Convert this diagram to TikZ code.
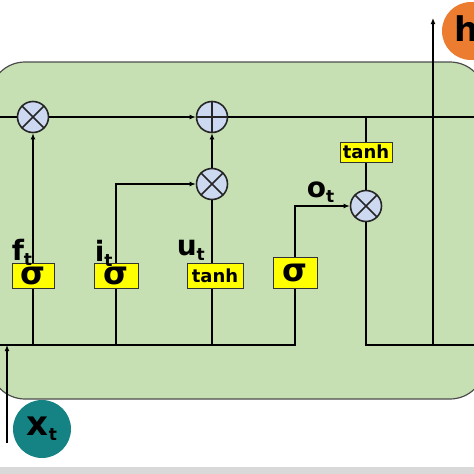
\documentclass[tikz,border=0pt]{standalone}
\usepackage{fontspec}
\setmainfont{DejaVu Sans}
\usetikzlibrary{positioning,arrows.meta}

\definecolor{cellgreen}{HTML}{C6E0B4}
\definecolor{opblue}{HTML}{CDD9F0}
\definecolor{gateyellow}{HTML}{FFFF00}
\definecolor{inteal}{HTML}{158383}
\definecolor{outorange}{HTML}{EC7C30}

\newcommand{\lsub}[2]{#1\raisebox{-5pt}{\fontsize{17}{17}\selectfont #2}}

\tikzset{
  opnode/.style={circle,draw=black!85,line width=1.6pt,fill=opblue,minimum size=31pt,inner sep=0pt},
  mult/.style={opnode,path picture={\draw[line width=1.6pt]
    (path picture bounding box.north west) -- (path picture bounding box.south east)
    (path picture bounding box.south west) -- (path picture bounding box.north east);}},
  addop/.style={opnode,path picture={\draw[line width=1.6pt]
    (path picture bounding box.north) -- (path picture bounding box.south)
    (path picture bounding box.west) -- (path picture bounding box.east);}},
  gatebox/.style={draw=black!80,line width=1pt,fill=gateyellow,inner sep=0pt,
    minimum height=25pt,font=\bfseries\fontsize{32}{32}\selectfont},
  tanhbox/.style={gatebox,font=\bfseries\fontsize{18}{18}\selectfont},
  lbl/.style={inner sep=0pt,anchor=base west,font=\bfseries\fontsize{28}{28}\selectfont},
  endnode/.style={circle,minimum size=58pt,inner sep=0pt,font=\bfseries\fontsize{34}{34}\selectfont}
}

\begin{document}
\begin{tikzpicture}[x=1pt,y=-1pt,line width=1.6pt,>={Latex[length=6pt,width=5pt]}]
\useasboundingbox (0,0) rectangle (474,474);
\clip (0,0) rectangle (474,474);

%-------------------Cell Body--------------------%
\draw[draw=black!70,line width=1.2pt,fill=cellgreen,rounded corners=35pt] (-10,62) rectangle (485,399);
\fill[black!15] (0,467) rectangle (474,474);

%-------------------Operators--------------------%
\node[mult] (mulf) at (33,117) {};
\node[addop] (plus) at (212,117) {};
\node[mult] (muli) at (212,184) {};
\node[mult] (mulo) at (366,206) {};

%-------------------Gates--------------------%
\node[gatebox,minimum width=42pt] (sigf) at (33,275.5) {σ};
\node[gatebox,minimum width=44pt] (sigi) at (116,275.5) {σ};
\node[tanhbox,minimum width=56pt] (tanhu) at (215,275.5) {tanh};
\node[gatebox,minimum width=44pt,minimum height=31pt] (sigo) at (295,272.5) {σ};
\node[tanhbox,minimum width=52pt,minimum height=20pt] (tanhc) at (366,152) {tanh};

%-------------------In and Out--------------------%
\node[endnode,fill=inteal] (xin) at (42,429) {\lsub{x}{t}};
\node[endnode,fill=outorange] (hout) at (471,31) {\lsub{h}{t}};

\coordinate (celll) at (0,117);
\coordinate (cellr) at (474,117);
\coordinate (botl) at (0,345);
\coordinate (outr) at (474,345);
\coordinate (hjoin) at (433,345);
\coordinate (htip) at (433,18);
\coordinate (xtail) at (7,443);

%-------------------Cell State--------------------%
\draw (celll) -- (mulf);
\draw[->] (mulf) -- (plus);
\draw (plus) -- (cellr);
\draw[->] (muli) -- (plus);

%-------------------Gate Lines--------------------%
\draw (botl) -| (sigo.south);
\draw[->] (xtail) -- (xtail |- botl);
\draw[->] (sigf) -- (mulf);
\draw (sigf) -- (sigf |- botl);
\draw[->] (sigi) |- (muli);
\draw (sigi) -- (sigi |- botl);
\draw (tanhu.north -| muli) -- (muli);
\draw (tanhu.south -| muli) -- (muli |- botl);
\draw[->] (sigo) |- (mulo);

%-------------------Output--------------------%
\draw (tanhc) -- (tanhc |- plus);
\draw (tanhc) -- (mulo);
\draw (mulo) |- (outr);
\draw[->] (hjoin) -- (htip);

%-------------------Labels--------------------%
\node[lbl] (lblf) at (11,260) {\lsub{f}{t}};
\node[lbl] (lbli) at (94,261) {\lsub{i}{t}};
\node[lbl] (lblu) at (176,255) {\lsub{u}{t}};
\node[lbl] (lblo) at (306,197) {\lsub{o}{t}};
\end{tikzpicture}
\end{document}
